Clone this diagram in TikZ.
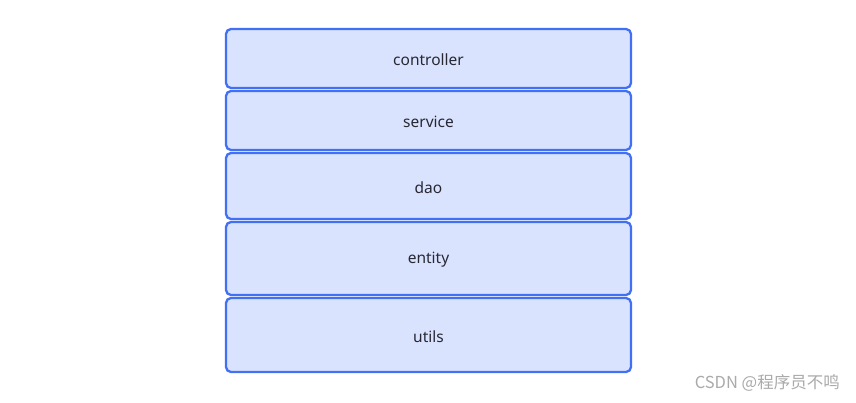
\documentclass[tikz,border=0pt]{standalone}
\usepackage{fontspec}
\setmainfont{Noto Sans}
\newfontfamily\cjkfont{Noto Sans CJK SC}
\definecolor{boxfill}{RGB}{218,227,254}
\definecolor{boxline}{RGB}{66,112,245}
\definecolor{txt}{RGB}{40,40,52}
\definecolor{wm}{RGB}{170,170,170}
\begin{document}
\begin{tikzpicture}[x=1pt,y=-1pt,
  layer/.style={draw=boxline, fill=boxfill, line width=2.3pt, rounded corners=5pt},
  lbl/.style={font=\fontsize{15.5}{18}\selectfont, text=txt, yshift=-1.5pt}]
\useasboundingbox (0,0) rectangle (856,402);
\fill[white] (0,0) rectangle (856,402);
\draw[layer] (226,29) rectangle (631,88) node[lbl, midway] (controller) {controller};
\draw[layer] (226,91) rectangle (631,150) node[lbl, midway] (service) {service};
\draw[layer] (226,153) rectangle (631,219) node[lbl, midway] (dao) {dao};
\draw[layer] (226,222) rectangle (631,295) node[lbl, midway] (entity) {entity};
\draw[layer] (226,298) rectangle (631,372) node[lbl, midway] (utils) {utils};
\node[anchor=east, text=wm, font=\cjkfont\fontsize{16.5}{20}\selectfont, inner sep=0pt] (wmark) at (840,383) {CSDN @程序员不鸣};
\end{tikzpicture}
\end{document}
